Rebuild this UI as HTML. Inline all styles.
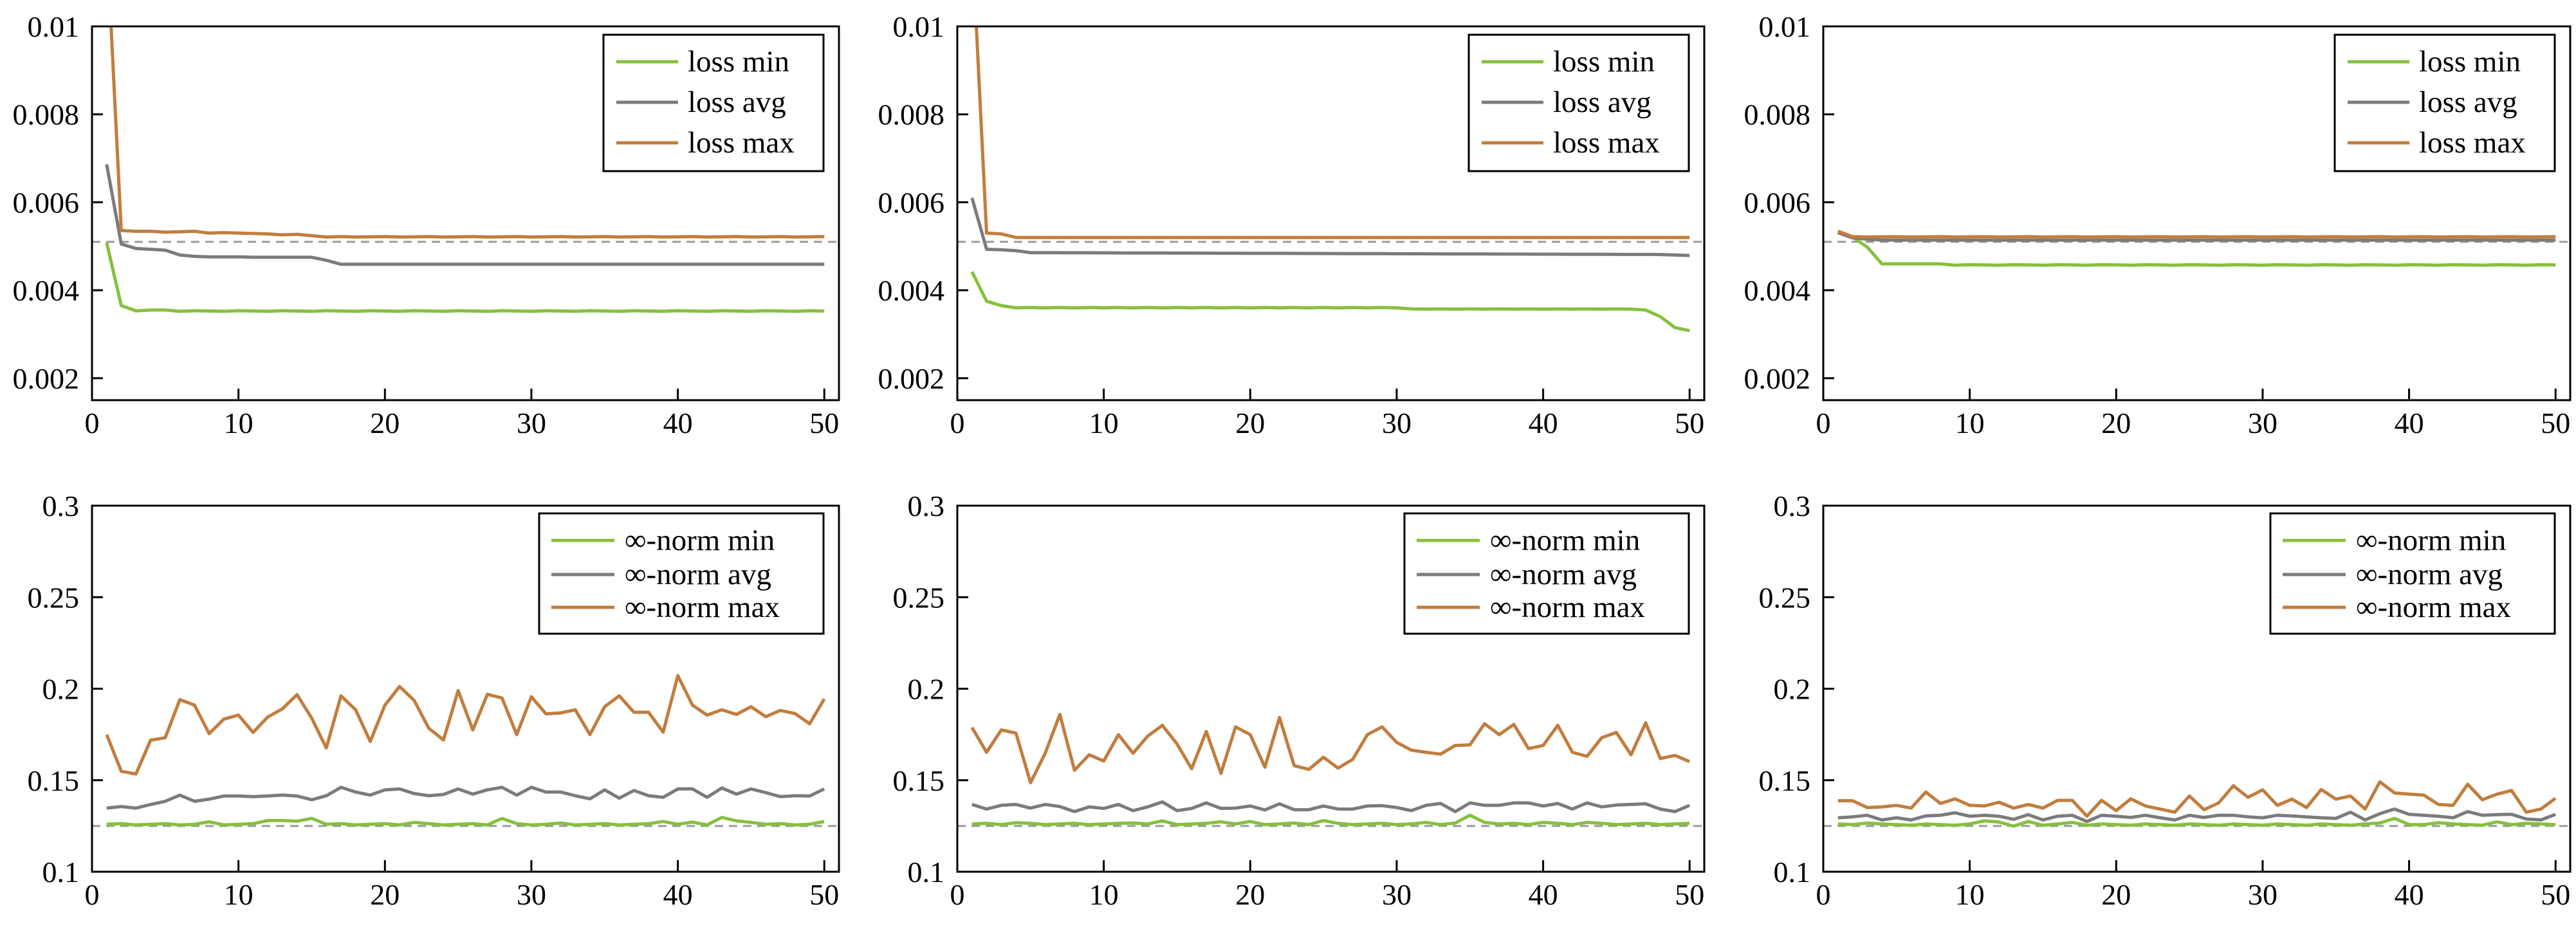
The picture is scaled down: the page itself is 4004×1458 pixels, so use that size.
<!DOCTYPE html>
<html><head><meta charset="utf-8"><style>
html,body{margin:0;padding:0;background:#fff;}
svg text{font-family:"Liberation Serif",serif;}
</style></head><body>
<svg id="s" width="4004" height="1453" xmlns="http://www.w3.org/2000/svg"></svg>
<script>
const G='#86c03f',A='#7b7b7b',O='#c17d3e';
const s=document.getElementById('s');let h='';
const lefts=[143,1488,2834],W=1161;
function xs(L,x){return L+(x/51)*W;}
function seq(f){const a=[];for(let i=1;i<=50;i++)a.push(f(i));return a;}
const bv=y=>0.15+(1062-y)/5900;
const tv=y=>0.004+(1004-y)/152000;
function panel(L,top,bot,ymin,ymax,ticks,fmt,series,dash,legend,xlabY){
  const ys=v=>top+(ymax-v)/(ymax-ymin)*(bot-top);
  const id='c'+L+'_'+top;
  h+=`<clipPath id="${id}"><rect x="${L}" y="${top}" width="${W}" height="${bot-top}"/></clipPath>`;
  h+=`<line x1="${L}" x2="${L+W}" y1="${ys(dash)}" y2="${ys(dash)}" stroke="#9a9a9a" stroke-width="3" stroke-dasharray="13,9"/>`;
  h+=`<g clip-path="url(#${id})">`;
  for(const [c,d] of series){
    h+=`<polyline fill="none" stroke="${c}" stroke-width="5" stroke-linejoin="round" points="${d.map((v,i)=>xs(L,i+1).toFixed(1)+','+ys(v).toFixed(1)).join(' ')}"/>`;
  }
  h+='</g>';
  h+=`<rect x="${L}" y="${top}" width="${W}" height="${bot-top}" fill="none" stroke="#000" stroke-width="3"/>`;
  for(const t of ticks){const y=ys(t);
    h+=`<line x1="${L}" x2="${L+17}" y1="${y}" y2="${y}" stroke="#000" stroke-width="3"/>`;
    h+=`<text x="${L-20}" y="${y+16}" font-size="46" text-anchor="end">${fmt(t)}</text>`;}
  for(let x=0;x<=50;x+=10){const X=xs(L,x);
    if(x>0)h+=`<line x1="${X}" x2="${X}" y1="${bot}" y2="${bot-18}" stroke="#000" stroke-width="3"/>`;
    h+=`<text x="${X}" y="${xlabY}" font-size="46" text-anchor="middle">${x}</text>`;}
  const [lx,ly,lw,lh,rows,lineX0,lineX1,txtX]=legend;
  h+=`<rect x="${L+W-24-lw}" y="${ly}" width="${lw}" height="${lh}" fill="#fff" stroke="#000" stroke-width="3"/>`;
  const bx=L+W-24-lw;
  rows.forEach(([c,t,y])=>{
    h+=`<line x1="${bx+lineX0}" x2="${bx+lineX1}" y1="${y}" y2="${y}" stroke="${c}" stroke-width="5"/>`;
    h+=`<text x="${bx+txtX}" y="${y+15}" font-size="47">${t}</text>`;});
}
const t1max=[0.012,0.00536,0.00534,0.00534,0.00532,0.00533,0.00534,0.00530,0.00531,0.0053,0.00529,0.00528,0.00526,0.00527,0.00524,0.00521].concat(seq(i=>0.00521+((i*7)%3)*0.000005).slice(16));
const t1avg=[0.00686,0.00505,0.00495,0.00493,0.00491,0.0048,0.00477,0.00476,0.00476,0.00476,0.00475,0.00475,0.00475,0.00475,0.00475,0.00468].concat(seq(i=>0.00459).slice(16));
const t1min=[0.00508,0.00365,0.00353,0.00355,0.00355].concat(seq(i=>0.00352+((i*5)%3)*0.000007).slice(5));
const t2max=[0.012,0.0053,0.00528].concat(seq(i=>0.0052).slice(3));
const t2avg=[0.0061,0.00493,0.00492,0.0049].concat(seq(i=>0.00486-i*0.000001).slice(4));
t2avg[48]=0.0048;t2avg[49]=0.00479;
const t2min=[0.00442,0.00375,0.00365].concat(seq(i=>0.0036-(i>30?0.00003:0)+((i*3)%2)*0.000006).slice(3));
t2min[46]=0.00355;t2min[47]=0.0034;t2min[48]=0.00315;t2min[49]=0.00308;
const t3max=[0.00534,0.00522].concat(seq(i=>0.00521+((i*7)%3)*0.000004).slice(2));
const t3avg=[0.00531,0.00519,0.00516].concat(seq(i=>0.00514).slice(3));
const t3min=[0.00531,0.00521,0.00498,0.0046,0.0046,0.0046,0.0046,0.0046].concat(seq(i=>0.00457+((i*5)%3)*0.000005).slice(8));
const b1max=[915,1033,1042,933,925,802,820,912,865,852,908,858,832,786,862,958,790,835,937,820,760,805,895,932,773,900,785,797,915,793,848,845,835,915,825,790,843,843,907,725,820,852,835,850,825,857,837,847,880,800].map(bv);
const b1avg=[1152,1147,1152,1140,1130,1110,1130,1123,1113,1113,1115,1113,1110,1113,1125,1112,1085,1100,1110,1093,1090,1105,1112,1108,1090,1107,1093,1085,1110,1085,1100,1100,1112,1122,1093,1120,1095,1112,1117,1090,1090,1117,1087,1107,1090,1102,1115,1112,1113,1090].map(bv);
const b1min=seq(i=>1206-((i*7)%3)*2);[[8,1196],[12,1192],[13,1192],[14,1194],[15,1185],[20,1202],[22,1198],[28,1185],[32,1200],[39,1195],[41,1197],[43,1182],[44,1193],[45,1198],[50,1195]].forEach(([i,y])=>b1min[i-1]=y);
const b2max=[892,972,900,910,1070,975,850,1030,980,1000,915,975,920,885,945,1025,905,1040,890,915,1020,860,1015,1027,988,1023,995,915,890,940,965,972,978,950,948,880,915,882,960,950,885,972,985,925,908,980,877,992,982,1002].map(bv);
const b2avg=[1140,1155,1143,1140,1152,1140,1147,1163,1148,1153,1140,1160,1148,1132,1160,1153,1135,1153,1152,1145,1158,1138,1157,1157,1145,1155,1155,1145,1144,1150,1160,1143,1137,1163,1135,1143,1143,1135,1135,1145,1137,1155,1135,1148,1142,1140,1138,1155,1163,1143].map(bv);
const b2min=seq(i=>1205-((i*7)%3)*2);[[1,1203],[4,1199],[12,1200],[14,1193],[18,1196],[20,1195],[23,1200],[25,1192],[32,1198],[34,1200],[35,1175],[36,1198],[40,1198],[43,1198],[50,1201]].forEach(([i,y])=>b2min[i-1]=y);
const b3max=[1128,1128,1150,1148,1143,1152,1100,1137,1122,1143,1145,1133,1152,1140,1152,1127,1127,1178,1127,1160,1122,1145,1155,1165,1113,1157,1135,1080,1117,1093,1143,1123,1150,1092,1123,1113,1155,1067,1103,1107,1110,1140,1143,1075,1125,1107,1095,1165,1155,1120].map(bv);
const b3avg=[1183,1180,1175,1190,1183,1190,1177,1175,1167,1178,1175,1178,1188,1173,1190,1178,1175,1195,1175,1178,1182,1175,1183,1190,1175,1182,1175,1175,1180,1183,1175,1177,1180,1183,1185,1165,1190,1170,1155,1172,1175,1178,1183,1163,1175,1173,1172,1187,1190,1172].map(bv);
const b3min=seq(i=>1207-((i*5)%3)*2);[[3,1200],[11,1193],[12,1197],[13,1210],[14,1195],[17,1198],[38,1200],[39,1185],[40,1205],[42,1199],[46,1196],[48,1201]].forEach(([i,y])=>b3min[i-1]=y);
b1min.forEach((v,i)=>b1min[i]=bv(v));b2min.forEach((v,i)=>b2min[i]=bv(v));b3min.forEach((v,i)=>b3min[i]=bv(v));
const tf=t=>t===0.01?'0.01':t.toFixed(3);
const bf=t=>{let r=t.toFixed(2);if(r.endsWith('0'))r=t.toFixed(1);return r;};
const tt=[0.002,0.004,0.006,0.008,0.01],bt=[0.1,0.15,0.2,0.25,0.3];
const topL=[0,54,342,212,[[G,'loss min',96],[A,'loss avg',159],[O,'loss max',222]],20,116,131];
const botL=[0,798,442,187,[[G,'∞-norm min',840],[A,'∞-norm avg',893],[O,'∞-norm max',944]],19,117,133];
const T=[[t1min,t1avg,t1max],[t2min,t2avg,t2max],[t3min,t3avg,t3max]];
const B=[[b1min,b1avg,b1max],[b2min,b2avg,b2max],[b3min,b3avg,b3max]];
for(let k=0;k<3;k++){
  panel(lefts[k],41,622,0.0015,0.01,tt,tf,[[G,T[k][0]],[A,T[k][1]],[O,T[k][2]]],0.0051,topL,673);
  panel(lefts[k],786,1355,0.1,0.3,bt,bf,[[G,B[k][0]],[A,B[k][1]],[O,B[k][2]]],0.125,botL,1406);
}
s.innerHTML=h;
</script>
</body></html>
